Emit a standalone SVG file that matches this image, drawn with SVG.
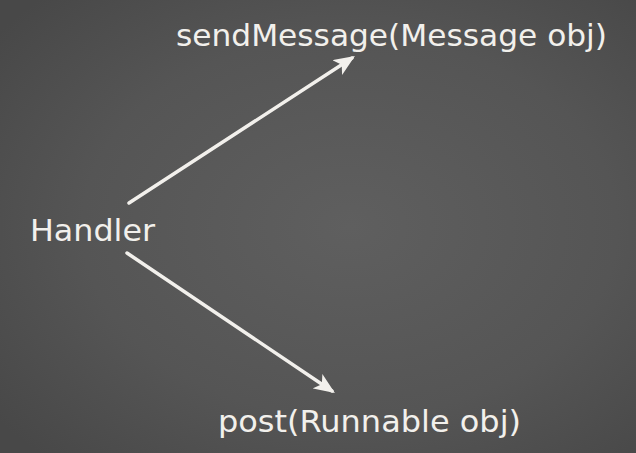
<svg xmlns="http://www.w3.org/2000/svg" width="636" height="453" viewBox="0 0 636 453">
<defs>
<radialGradient id="bg" cx="0.55" cy="0.5" r="0.7">
<stop offset="0" stop-color="#5f5f5f"/>
<stop offset="0.6" stop-color="#555555"/>
<stop offset="1" stop-color="#484848"/>
</radialGradient>
<marker id="ah" viewBox="0 0 12 10" refX="10" refY="5" markerWidth="6" markerHeight="5" orient="auto" markerUnits="strokeWidth">
<path d="M0,0 L12,5 L0,10 L3,5 Z" fill="#f2f0ec"/>
</marker>
<style>
.t{font-family:"DejaVu Sans","Liberation Sans",sans-serif;fill:#f2f0ec;font-size:30px}
.c{stroke:#f2f0ec;stroke-width:3.5;stroke-linecap:round;fill:none}
</style>
</defs>
<rect width="636" height="453" fill="url(#bg)"/>
<g id="connectors">
<path class="c" d="M129,203 L352,58" marker-end="url(#ah)"/>
<path class="c" d="M127,253 L332,391" marker-end="url(#ah)"/>
</g>
<g id="handler"><text class="t" x="30" y="241" textLength="125" lengthAdjust="spacingAndGlyphs">Handler</text></g>
<g id="sendMessage"><text class="t" x="176" y="46" textLength="431" lengthAdjust="spacingAndGlyphs">sendMessage(Message obj)</text></g>
<g id="post"><text class="t" x="218" y="432" textLength="303" lengthAdjust="spacingAndGlyphs">post(Runnable obj)</text></g>
</svg>
